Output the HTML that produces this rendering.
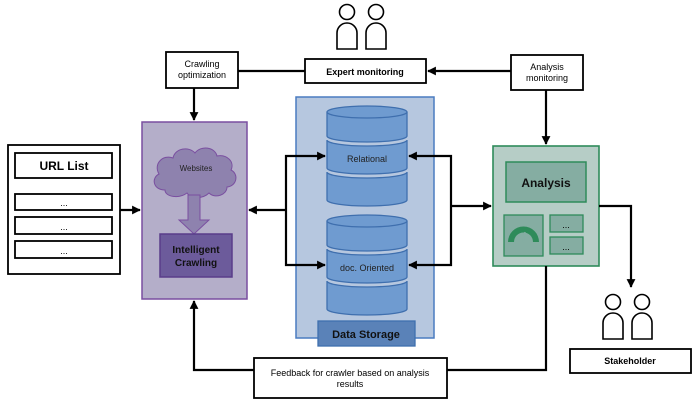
<!DOCTYPE html>
<html><head><meta charset="utf-8"><style>body{margin:0;background:#fff}svg{display:block}text{font-family:"Liberation Sans",sans-serif}</style></head><body>
<svg width="700" height="404" viewBox="0 0 700 404" xmlns="http://www.w3.org/2000/svg">
<defs><marker id="a" viewBox="0 0 10 10" refX="9" refY="5" markerWidth="4" markerHeight="4" orient="auto"><path d="M0,0L10,5L0,10z" fill="#000"/></marker>
<g id="p"><circle cx="11" cy="10" r="7.5" fill="#fff" stroke="#000" stroke-width="1.6"/><path d="M1,47V31a10,10 0 0 1 20,0V47z" fill="#fff" stroke="#000" stroke-width="1.6"/></g></defs>
<use href="#p" x="336" y="2"/><use href="#p" x="365" y="2"/>
<use href="#p" x="602" y="292"/><use href="#p" x="631" y="292"/>
<g stroke="#000" stroke-width="1.8" fill="#fff">
<rect x="166" y="52" width="72" height="36"/>
<rect x="305" y="59" width="121" height="24"/>
<rect x="511" y="55" width="72" height="35"/>
<rect x="570" y="349" width="121" height="24"/>
<rect x="254" y="358" width="193" height="40"/>
<rect x="8" y="145" width="112" height="129"/>
<rect x="15" y="153" width="97" height="25"/>
<rect x="15" y="194" width="97" height="16"/>
<rect x="15" y="217" width="97" height="17"/>
<rect x="15" y="241" width="97" height="17"/>
</g>
<text x="202" y="67" font-size="9" text-anchor="middle">Crawling</text>
<text x="202" y="78" font-size="9" text-anchor="middle">optimization</text>
<text x="365" y="75" font-size="9" font-weight="bold" text-anchor="middle">Expert monitoring</text>
<text x="547" y="70" font-size="9" text-anchor="middle">Analysis</text>
<text x="547" y="81" font-size="9" text-anchor="middle">monitoring</text>
<text x="630" y="364" font-size="9" font-weight="bold" text-anchor="middle">Stakeholder</text>
<text x="350" y="376" font-size="9" text-anchor="middle">Feedback for crawler based on analysis</text>
<text x="350" y="387" font-size="9" text-anchor="middle">results</text>
<text x="64" y="170" font-size="12" font-weight="bold" text-anchor="middle">URL List</text>
<text x="64" y="206" font-size="9" text-anchor="middle">...</text>
<text x="64" y="230" font-size="9" text-anchor="middle">...</text>
<text x="64" y="254" font-size="9" text-anchor="middle">...</text>
<rect x="142" y="122" width="105" height="177" fill="#b4aec9" stroke="#7a4fa0" stroke-width="1.5"/>
<path d="M165,190c-12,0-14-12-6-16c-6-10,4-20,14-16c2-10,16-12,22-5c6-8,20-6,22,3c10-2,18,6,14,14c8,4,6,16-4,17c0,8-12,12-18,6c-6,6-18,6-22,0c-8,6-22,4-22-3z" fill="#8e82ae" stroke="#7a4fa0" stroke-width="1"/>
<text x="196" y="171" font-size="8" text-anchor="middle" fill="#222">Websites</text>
<path d="M188,195h12v25h9l-15,14l-15-14h9z" fill="#8e82ae" stroke="#7a4fa0" stroke-width="1"/>
<rect x="160" y="234" width="72" height="43" fill="#6c5b9b" stroke="#5a3d8a" stroke-width="1.5"/>
<text x="196" y="253" font-size="10" font-weight="bold" text-anchor="middle" fill="#111">Intelligent</text>
<text x="196" y="266" font-size="10" font-weight="bold" text-anchor="middle" fill="#111">Crawling</text>
<rect x="296" y="97" width="138" height="241" fill="#b6c7df" stroke="#4a7cc0" stroke-width="1.5"/>
<g fill="#6f9bd0" stroke="#3f6fae" stroke-width="1.3">
<g id="cy">
<path d="M327,172v28a40,6 0 0 0 80,0v-28a40,6 0 0 1 -80,0z"/>
<path d="M327,140v28a40,6 0 0 0 80,0v-28a40,6 0 0 1 -80,0z"/>
<path d="M327,112v24a40,6 0 0 0 80,0v-24"/>
<ellipse cx="367" cy="112" rx="40" ry="6"/>
</g>
<use href="#cy" y="109"/>
</g>
<text x="367" y="162" font-size="9" text-anchor="middle" fill="#222">Relational</text>
<text x="367" y="271" font-size="9" text-anchor="middle" fill="#222">doc. Oriented</text>
<rect x="318" y="321" width="97" height="25" fill="#5a82b8" stroke="#3f6fae" stroke-width="1.3"/>
<text x="366" y="338" font-size="11" font-weight="bold" text-anchor="middle" fill="#111">Data Storage</text>
<rect x="493" y="146" width="106" height="120" fill="#b6cdc6" stroke="#2e8b5a" stroke-width="1.6"/>
<rect x="506" y="162" width="80" height="40" fill="#85ada2" stroke="#2e8b5a" stroke-width="1.5"/>
<text x="546" y="187" font-size="12" font-weight="bold" text-anchor="middle" fill="#111">Analysis</text>
<rect x="504" y="215" width="39" height="41" fill="#85ada2" stroke="#2e8b5a" stroke-width="1.3"/>
<path d="M508,242a15.5,15.5 0 0 1 31,0h-6a9.5,9.5 0 0 0 -19,0z" fill="#2e8b5a"/>
<path d="M523,242l2-10" stroke="#85ada2" stroke-width="1.5"/>
<rect x="550" y="215" width="33" height="17" fill="#85ada2" stroke="#2e8b5a" stroke-width="1.3"/>
<rect x="550" y="237" width="33" height="17" fill="#85ada2" stroke="#2e8b5a" stroke-width="1.3"/>
<text x="566" y="228" font-size="9" text-anchor="middle">...</text>
<text x="566" y="250" font-size="9" text-anchor="middle">...</text>
<g stroke="#000" stroke-width="2.2" fill="none">
<path d="M238,71H305"/>
<path d="M511,71H428" marker-end="url(#a)"/>
<path d="M194,88V120" marker-end="url(#a)"/>
<path d="M546,90V144" marker-end="url(#a)"/>
<path d="M120,210H140" marker-end="url(#a)"/>
<path d="M286,210H249" marker-end="url(#a)"/>
<path d="M286,210V156H325" marker-end="url(#a)"/>
<path d="M286,210V265H325" marker-end="url(#a)"/>
<path d="M451,206V156H409" marker-end="url(#a)"/>
<path d="M451,206V265H409" marker-end="url(#a)"/>
<path d="M451,206H491" marker-end="url(#a)"/>
<path d="M599,206H631V287" marker-end="url(#a)"/>
<path d="M546,266V370H447"/>
<path d="M254,370H194V301" marker-end="url(#a)"/>
</g>
</svg>
</body></html>
